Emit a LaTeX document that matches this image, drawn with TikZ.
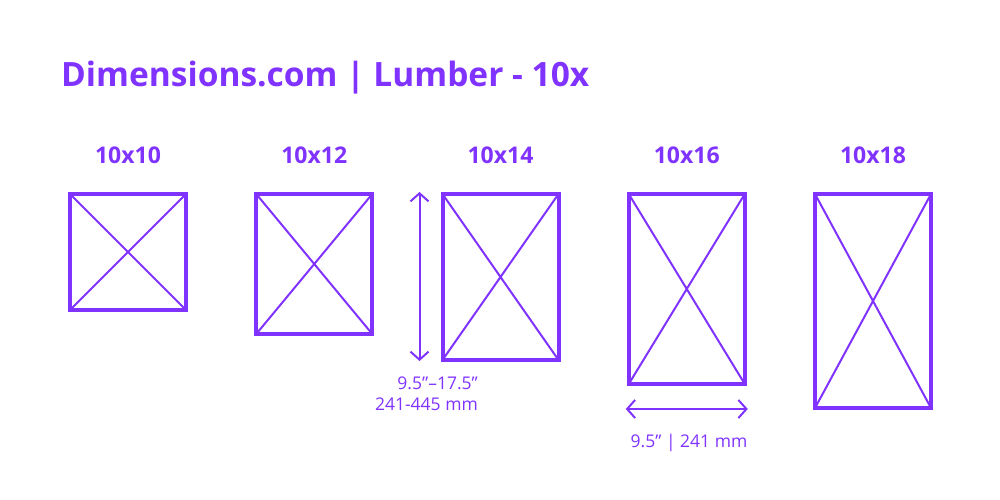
\documentclass[tikz,border=0pt]{standalone}
\usepackage{fontspec}
\setmainfont{Open Sans}
\usepackage{tikz}
\usetikzlibrary{arrows.meta}
\definecolor{dimpurple}{HTML}{8033FF}
\tikzset{
  lumber/.style  = {shape=rectangle, draw=dimpurple, line width=4pt,
                    minimum width=116pt, inner sep=0pt, outer sep=0pt,
                    anchor=north},
  size/.style    = {text=dimpurple, font=\fontsize{23}{26}\selectfont\bfseries},
  cross/.style   = {draw=dimpurple, line width=2pt},
  measure/.style = {draw=dimpurple, line width=2pt,
                    {Straight Barb[length=8pt,width=18pt]}-{Straight Barb[length=8pt,width=18pt]}},
  dimtext/.style = {text=dimpurple, font=\fontsize{17.5}{21}\selectfont, inner sep=0pt}
}

\begin{document}
\begin{tikzpicture}[x=1pt, y=-1pt]
  \useasboundingbox (0,0) rectangle (1000,500);

  \node[text=dimpurple, font=\fontsize{33.5}{40}\selectfont\bfseries, anchor=base west, inner sep=0pt]
    (title) at (61,87) {Dimensions.com | Lumber - 10x};

  % one box per size
  \foreach \n/\h [count=\i from 0] in {10/116, 12/140, 14/166, 16/190, 18/214} {
    \node[lumber, minimum height=\h pt] (b\n) at (128+186.25*\i,194) {};
    \node[size] (l\n) at (128+186.25*\i,155) {10x\n};
    \draw[cross] (b\n.north west) -- (b\n.south east)
                 (b\n.north east) -- (b\n.south west);
  }

  % height of the 10x14
  \coordinate (vtop) at ([xshift=-23pt, yshift=2pt]b14.north west);
  \coordinate (vbot) at ([xshift=-23pt, yshift=-1pt]b14.south west);
  \draw[measure] (vtop) -- (vbot);
  \node[dimtext, anchor=north east, align=right] (hlabel) at (478,377)
    {9.5”–17.5”\\241-445 mm};

  % width of the 10x16
  \coordinate (wleft) at ([xshift=-3pt, yshift=-25pt]b16.south west);
  \coordinate (wright) at ([xshift=3pt, yshift=-25pt]b16.south east);
  \draw[measure] (wleft) -- (wright);
  \node[dimtext, anchor=north] (wlabel) at (689,434) {9.5” | 241 mm};
\end{tikzpicture}
\end{document}
